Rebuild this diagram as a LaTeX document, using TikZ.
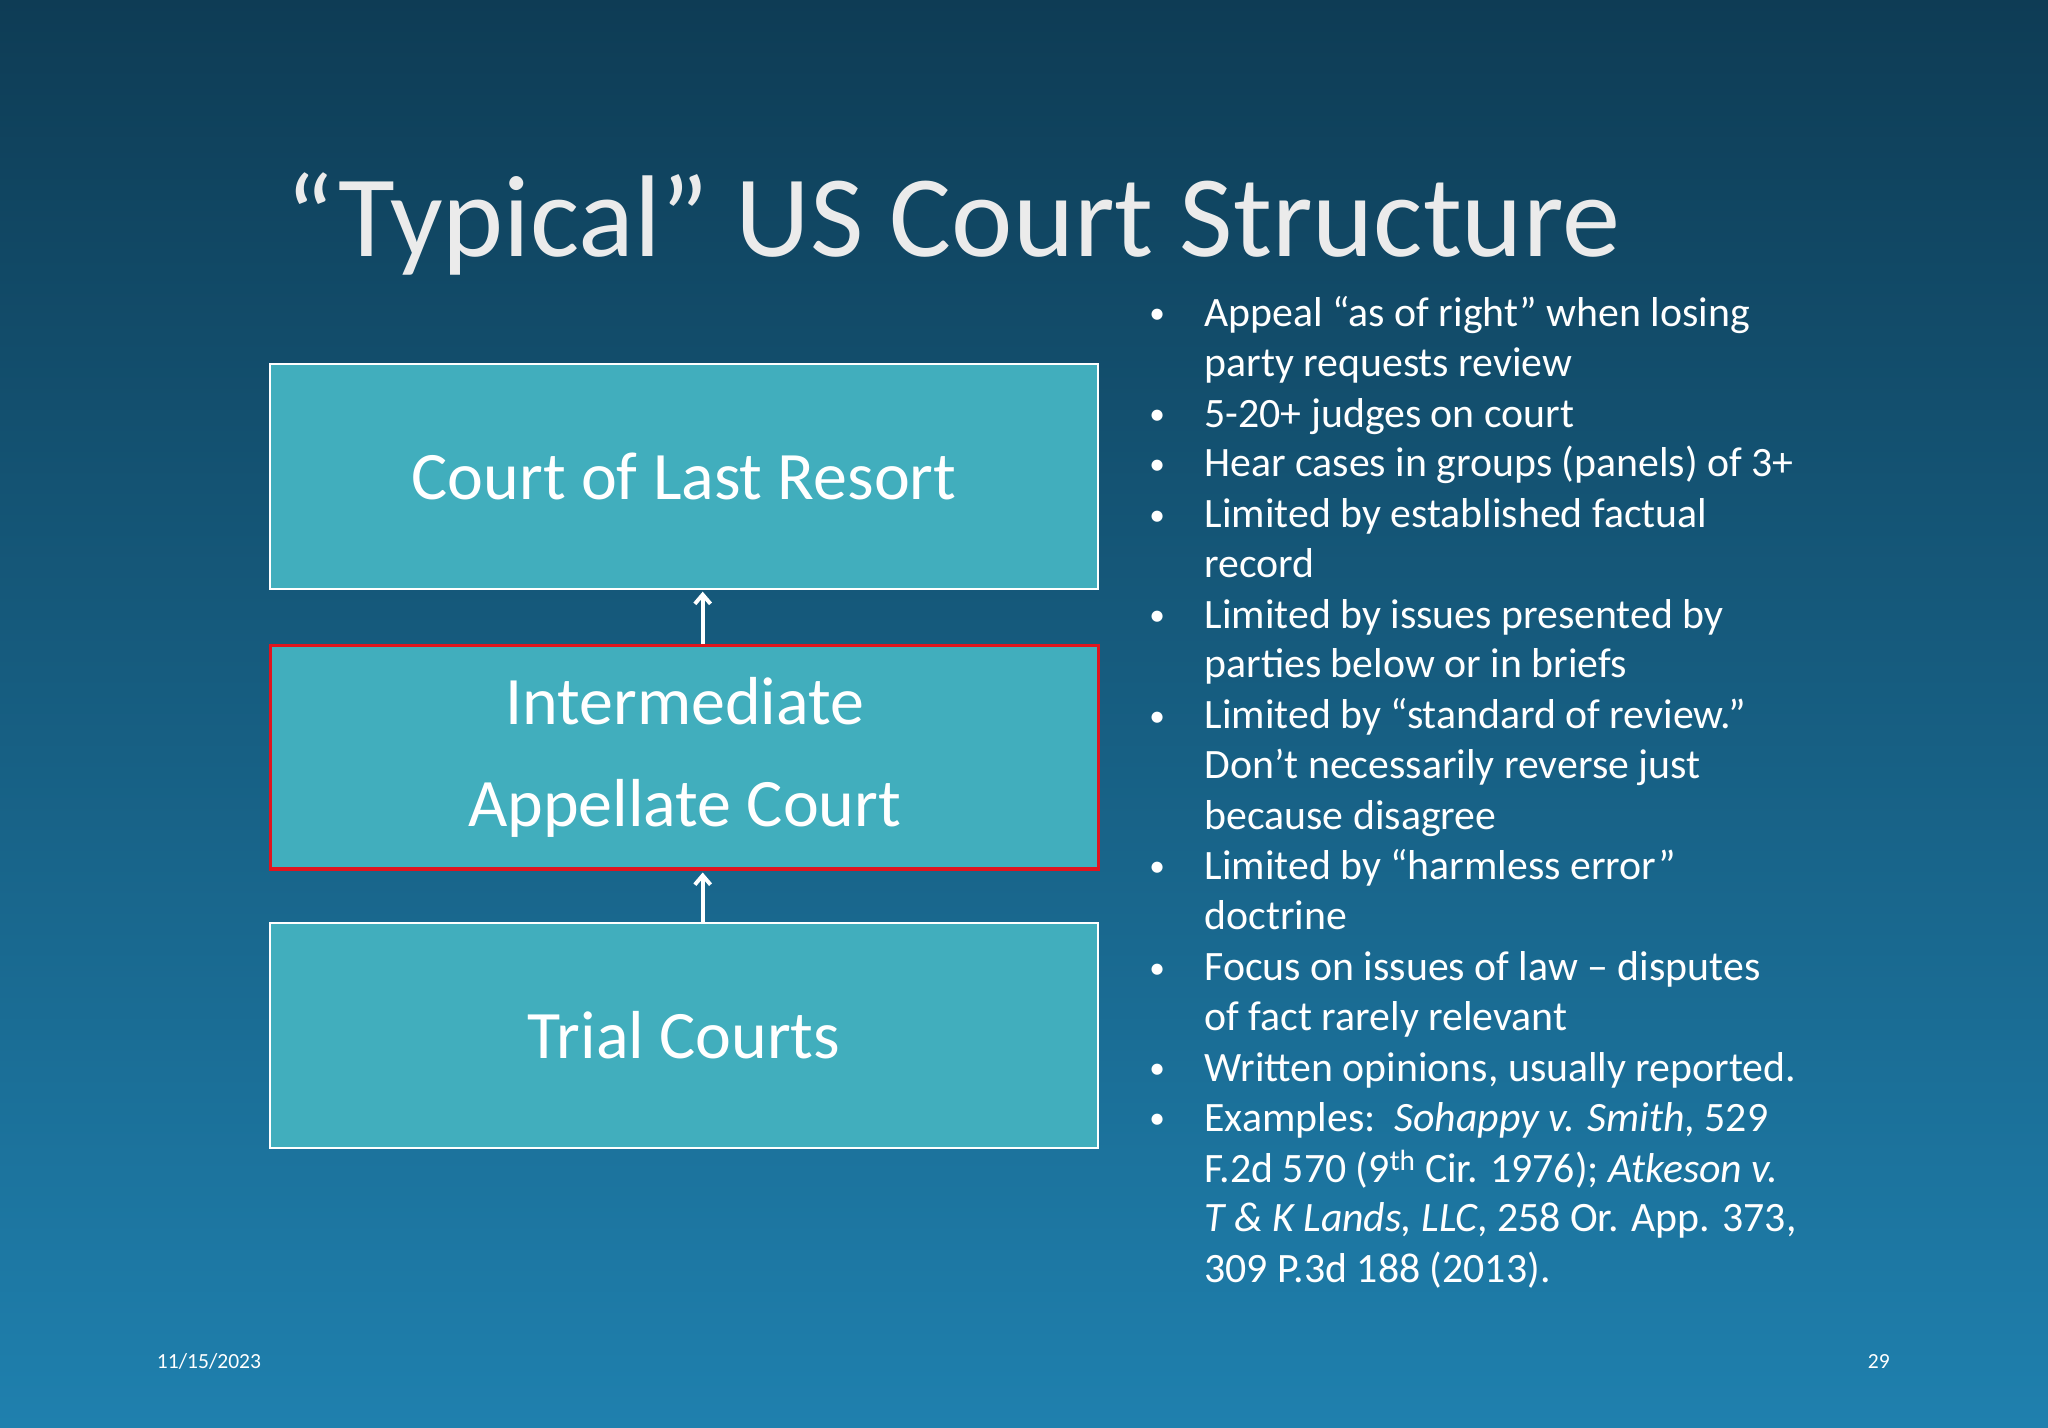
\documentclass[tikz,border=0pt]{standalone}
\usepackage{fontspec}
\usetikzlibrary{arrows.meta}
\setmainfont{Carlito}
\definecolor{bgtop}{HTML}{0E3C55}
\definecolor{bgbot}{HTML}{1F80AE}
\definecolor{boxfill}{HTML}{41AEBD}
\definecolor{redb}{HTML}{E0141E}
\begin{document}
\begin{tikzpicture}[x=1pt,y=-1pt,
  court/.style={draw=white,line width=1.5pt,fill=boxfill,minimum width=634pt,minimum height=172pt,anchor=north west,text=white,font=\fontsize{52}{78}\selectfont,align=center},
  bl/.style={anchor=base west,text=white,font=\fontsize{32}{35}\selectfont,inner sep=0pt},
  bu/.style={anchor=base,text=white,font=\fontsize{24}{35}\selectfont,inner sep=0pt},
  arr/.style={draw=white,line width=3pt,-{Straight Barb[length=7pt,width=12pt]}}]
\shade[top color=bgtop,bottom color=bgbot] (0,0) rectangle (1568,1093);
\useasboundingbox (0,0) rectangle (1568,1093);
\node[anchor=base west,text=white!92!black,font=\fontsize{89}{90}\selectfont,inner sep=0pt] (title) at (218,196) {“Typical” US Court Structure};
\node[court] (top) at (206,278) {Court of Last Resort};
\node[court,draw=redb,line width=2.5pt,minimum height=171pt] (mid) at (206,493) {Intermediate\\Appellate Court};
\node[court] (bot) at (206,706) {Trial Courts};
\coordinate (a1) at (538,453);
\coordinate (a2) at (538,668);
\draw[arr] (538,493) -- (a1);
\draw[arr] (538,707) -- (a2);
\foreach \y/\t [count=\i] in {
250/{Appeal “as of right” when losing},
288/{party requests review},
327/{5-20+ judges on court},
365/{Hear cases in groups (panels) of 3+},
404/{Limited by established factual},
442/{record},
481/{Limited by issues presented by},
519/{parties below or in briefs},
558/{Limited by “standard of review.”},
596/{Don’t necessarily reverse just},
635/{because disagree},
673/{Limited by “harmless error”},
712/{doctrine},
751/{Focus on issues of law – disputes},
789/{of fact rarely relevant},
828/{Written opinions, usually reported.},
866/{Examples:\ \ \textit{Sohappy v. Smith}, 529},
905/{F.2d 570 (9\textsuperscript{th} Cir. 1976); \textit{Atkeson v.}},
943/{\textit{T \& K Lands, LLC}, 258 Or. App. 373,},
982/{309 P.3d 188 (2013).}}
  {\node[bl] (l\i) at (922,\y) {\t};}
\foreach \y [count=\i] in {250,327,365,404,481,558,673,751,828,866}
  {\node[bu] (b\i) at (886,\y-2) {•};}
\node[anchor=base west,text=white,font=\fontsize{16.5}{18}\selectfont,inner sep=0pt] (date) at (120,1048) {11/15/2023};
\node[anchor=base east,text=white,font=\fontsize{16.5}{18}\selectfont,inner sep=0pt] (pg) at (1447,1048) {29};
\end{tikzpicture}
\end{document}
